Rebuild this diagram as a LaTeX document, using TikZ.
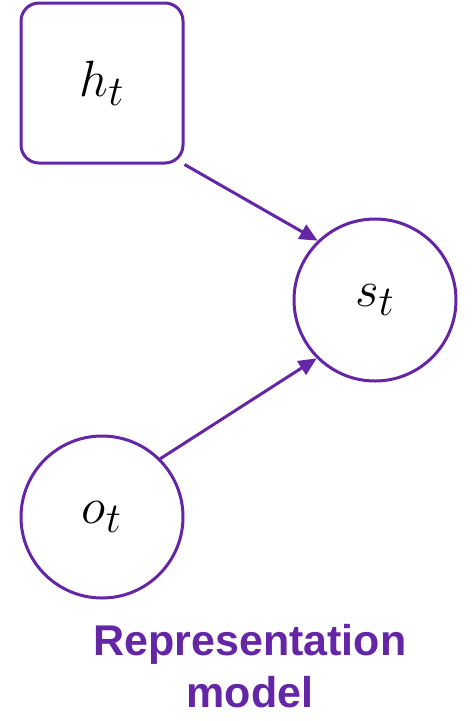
\documentclass[tikz,border=0pt]{standalone}
\usepackage{fontspec}
\newfontfamily\labelfont{Liberation Sans}
\usepackage{graphicx}
\usepackage{xcolor}
\definecolor{cMain}{HTML}{6426A6}
\usepackage{tikz}
\usetikzlibrary{positioning,arrows.meta}
\newcommand{\varlabel}[1]{\scalebox{2.05}{\Huge$#1$}}
\tikzset{
  node-box/.style={draw=cMain,line width=3pt,rounded corners=18pt,
    minimum width=162pt,minimum height=160pt,inner sep=0pt},
  node-state/.style={draw=cMain,line width=3pt,circle,minimum size=162pt,
    inner sep=0pt},
  arrow/.style={-{Triangle[length=18pt,width=16pt]},line width=3pt,draw=cMain},
  caption/.style={text=cMain,align=center,
    font=\labelfont\bfseries\fontsize{43}{52}\selectfont},
}
\begin{document}
\begin{tikzpicture}[x=1pt,y=1pt]
  \useasboundingbox (0,0) rectangle (474,-721);
  \node[node-box]   (h) at (102,-83)  {\varlabel{h_t}};
  \node[node-state] (s) at (375,-300) {\varlabel{s_t}};
  \node[node-state] (o) at (102,-517) {\varlabel{o_t}};
  \draw[arrow] (h.south east) -- (s.134);
  \draw[arrow] (o.45) -- (s.225);
  % label under the diagram
  \node[caption] (lbl) at (250,-666) {Representation\\model};
\end{tikzpicture}
\end{document}
